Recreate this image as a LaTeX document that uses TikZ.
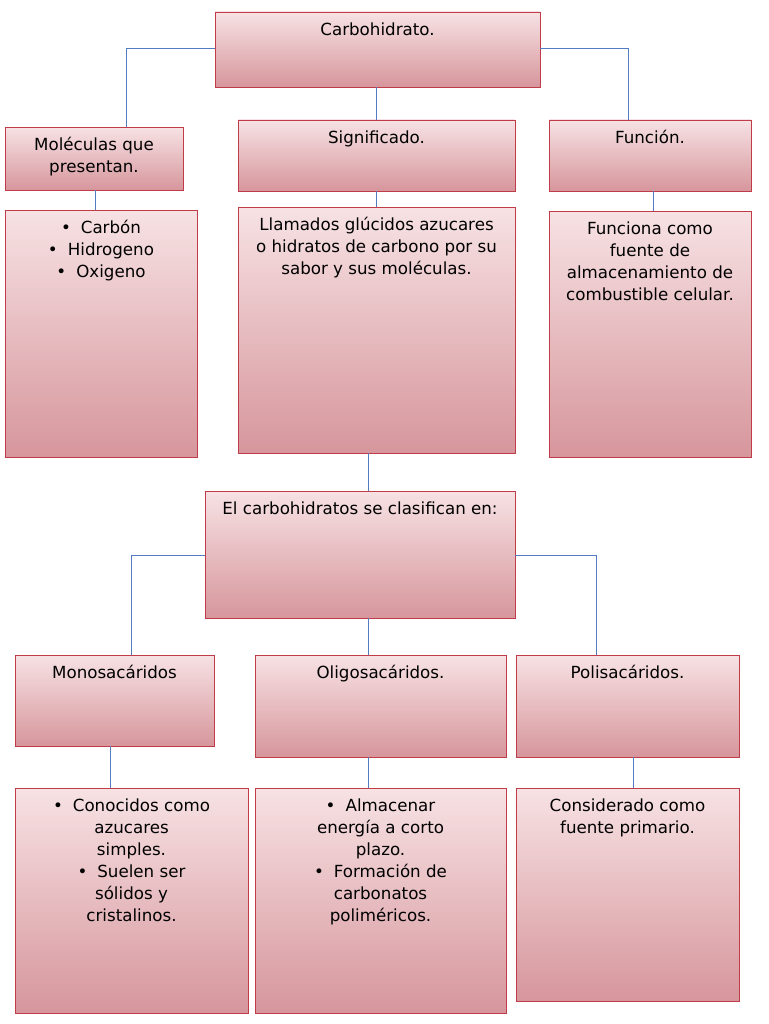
\documentclass[tikz,border=0pt]{standalone}
\usepackage{fontspec}
\setmainfont{DejaVu Sans}
\usetikzlibrary{fit}
\definecolor{boxtop}{RGB}{247,226,228}
\definecolor{boxbot}{RGB}{214,150,156}
\definecolor{boxline}{RGB}{192,60,72}
\definecolor{linkc}{RGB}{84,124,192}
\tikzset{
  cbox/.style={draw=boxline, top color=boxtop, bottom color=boxbot, inner sep=0pt},
  ctext/.style={anchor=north, align=center, font=\fontsize{9.5}{12.5}\selectfont, inner sep=0pt},
  link/.style={draw=linkc, line width=0.4pt}
}
\newcommand\cbox[6]{%
  \node[cbox, fit={(#2,#3)(#4,#5)}] (#1) {};
  \node[ctext] (#1t) at ([yshift=-6pt]#1.north) {#6};}
\newcommand\itm{\textbullet\hspace{0.6em}}
\begin{document}
\begin{tikzpicture}[x=0.02cm,y=-0.02cm]
\useasboundingbox (0,0) rectangle (768,1024);

% top level
\cbox{carb}{215}{12}{540}{87}{Carbohidrato.}
\cbox{mol}{5}{127}{183}{190}{Moléculas que\\presentan.}
\cbox{sig}{238}{120}{515}{191}{Significado.}
\cbox{fun}{549}{120}{751}{191}{Función.}
\cbox{elem}{5}{210}{197}{457}{\itm Carbón\\\itm Hidrogeno\\\itm Oxigeno}
\cbox{llam}{238}{207}{515}{453}{Llamados glúcidos azucares\\o hidratos de carbono por su\\sabor y sus moléculas.}
\cbox{func}{549}{211}{751}{457}{Funciona como\\fuente de\\almacenamiento de\\combustible celular.}

% classification
\cbox{clas}{205}{491}{515}{618}{El carbohidratos se clasifican en:}
\cbox{mono}{15}{655}{214}{746}{Monosacáridos}
\cbox{olig}{255}{655}{506}{757}{Oligosacáridos.}
\cbox{poli}{516}{655}{739}{757}{Polisacáridos.}
\cbox{cono}{15}{788}{248}{1013}{\itm Conocidos como\\azucares\\simples.\\\itm Suelen ser\\sólidos y\\cristalinos.}
\cbox{alma}{255}{788}{506}{1013}{\itm Almacenar\\energía a corto\\plazo.\\\itm Formación de\\carbonatos\\poliméricos.}
\cbox{cons}{516}{788}{739}{1001}{Considerado como\\fuente primario.}

% connectors
\draw[link] (carb.west |- 0,48) -| (mol.north -| 126,0);
\draw[link] (carb.east |- 0,48) -| (fun.north -| 628,0);
\draw[link] (carb.south -| 376,0) -- (sig.north -| 376,0);
\draw[link] (mol.south -| 95,0) -- (elem.north -| 95,0);
\draw[link] (sig.south -| 376,0) -- (llam.north -| 376,0);
\draw[link] (fun.south -| 653,0) -- (func.north -| 653,0);
\draw[link] (llam.south -| 368,0) -- (clas.north -| 368,0);
\draw[link] (clas.west |- 0,555) -| (mono.north -| 131,0);
\draw[link] (clas.east |- 0,555) -| (poli.north -| 596,0);
\draw[link] (clas.south -| 368,0) -- (olig.north -| 368,0);
\draw[link] (mono.south -| 110,0) -- (cono.north -| 110,0);
\draw[link] (olig.south -| 368,0) -- (alma.north -| 368,0);
\draw[link] (poli.south -| 633,0) -- (cons.north -| 633,0);
\end{tikzpicture}
\end{document}
